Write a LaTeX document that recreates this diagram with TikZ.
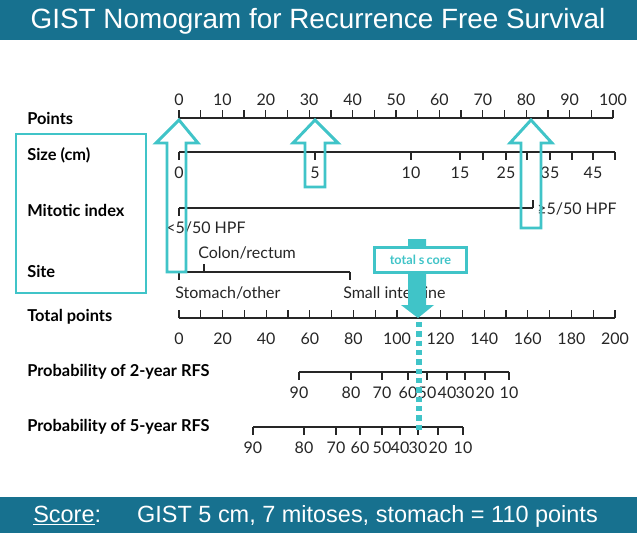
\documentclass[tikz,border=0pt]{standalone}
\usepackage{fontspec}
\setmainfont{Lato}
\newfontfamily\arialf{Liberation Sans}
\definecolor{bar}{HTML}{17718F}
\definecolor{acc}{HTML}{40C4C8}
\begin{document}
\begin{tikzpicture}[x=0.75pt,y=-0.75pt,
  ax/.style={line width=1pt,black!85},
  lbl/.style={font=\fontsize{12.3}{13}\selectfont\bfseries,anchor=west,inner sep=0},
  num/.style={font=\fontsize{12}{13}\selectfont,inner sep=0,black!85},
  harrow/.style={draw=acc,line width=2.2pt,line join=miter}]
\useasboundingbox (0,0) rectangle (637,533);
\fill[white] (0,0) rectangle (637,533);
\fill[bar] (0,0) rectangle (637,40);
\node[text=white,font=\arialf\fontsize{20.9}{24}\selectfont] (title) at (318,21) {GIST Nomogram for Recurrence Free Survival};
\fill[bar] (0,497) rectangle (637,533);
\node[text=white,font=\arialf\fontsize{17.6}{20}\selectfont,anchor=west,inner sep=0] (score) at (33,516) {\underline{Score}:\quad\, GIST 5 cm, 7 mitoses, stomach = 110 points};
% left labels
\node[lbl] (lp) at (27,118) {Points};
\node[lbl] (ls) at (27,155) {Size (cm)};
\node[lbl] (lm) at (27,210) {Mitotic index};
\node[lbl] (lsite) at (27,271) {Site};
\node[lbl] (lt) at (27,317) {Total points};
\node[lbl] (l2) at (27,372) {Probability of 2-year RFS};
\node[lbl] (l5) at (27,427) {Probability of 5-year RFS};
\draw[acc,line width=2.2pt] (16,134) rectangle (146,293);
% Points axis
\draw[ax] (179,118) -- (613,118);
\foreach \i in {0,5,...,100} \draw[ax] ({179+4.34*\i},118) -- ({179+4.34*\i},110);
\foreach \i in {0,10,...,100} \node[num] at ({179+4.34*\i},100) {\i};
% Size axis
\draw[ax] (179,152) -- (615,152);
\foreach \x in {179,315,411,460,483,506,527,550,572,593,615} \draw[ax] (\x,152) -- (\x,160);
\foreach \x/\t in {179/0,315/5,411/10,460/15,506/25,550/35,593/45} \node[num] at (\x,173) {\t};
% Mitotic
\draw[ax] (179,208) -- (533,208);
\draw[ax] (179,208) -- (179,216);
\draw[ax] (533,208) -- (533,200);
\node[num,anchor=west] (m1) at (166,228) {<5/50 HPF};
\node[num,anchor=west] (m2) at (537,209) {≥5/50 HPF};
% Site
\draw[ax] (179,272) -- (350,272);
\draw[ax] (179,272) -- (179,280);
\draw[ax] (350,272) -- (350,280);
\draw[ax] (204,272) -- (204,264);
\node[num,anchor=west] (s1) at (198,253) {Colon/rectum};
\node[num,anchor=west] (s2) at (175,293) {Stomach/other};
\node[num,anchor=west] (s3) at (343,293) {Small intestine};
% Total points
\draw[ax] (179,318) -- (615,318);
\foreach \i in {0,10,...,200} \draw[ax] ({179+2.18*\i},318) -- ({179+2.18*\i},310);
\foreach \i in {0,20,...,200} \node[num] at ({179+2.18*\i},339) {\i};
% 2-year
\draw[ax] (299,372) -- (509,372);
\foreach \x in {299,351,382,408,427,447,465,485,509} \draw[ax] (\x,372) -- (\x,380);
\foreach \x/\t in {299/90,351/80,382/70,408/60,427/50,447/40,465/30,485/20,509/10} \node[num] at (\x,393) {\t};
% 5-year
\draw[ax] (253,427) -- (463,427);
\foreach \x in {253,304,336,360,382,400,418,438,463} \draw[ax] (\x,427) -- (\x,435);
\foreach \x/\t in {253/90,304/80,336/70,360/60,382/50,400/40,418/30,438/20,463/10} \node[num] at (\x,448) {\t};
% hollow arrows
\draw[harrow] (167,272) -- (167,143) -- (156,143) -- (179,120) -- (198,143) -- (186,143) -- (186,272) -- cycle;
\draw[harrow] (305,187) -- (305,143) -- (293,143) -- (315,120) -- (338,143) -- (325,143) -- (325,187) -- cycle;
\draw[harrow] (521,228) -- (521,143) -- (510,143) -- (531,120) -- (552,143) -- (541,143) -- (541,228) -- cycle;
% total score arrow
\fill[acc] (408,239) -- (426,239) -- (426,305) -- (434,305) -- (418,318) -- (401,305) -- (408,305) -- cycle;
\node[draw=acc,fill=white,line width=2pt,minimum width=92pt*0.75,minimum height=25pt*0.75,inner sep=0,
  text=acc,font=\fontsize{9.5}{10}\selectfont\bfseries] (ts) at (420.5,260) {total s\,core};
\draw[acc,line width=4pt,dash pattern=on 4pt off 3pt] (419,322) -- (419,430);
\end{tikzpicture}
\end{document}
